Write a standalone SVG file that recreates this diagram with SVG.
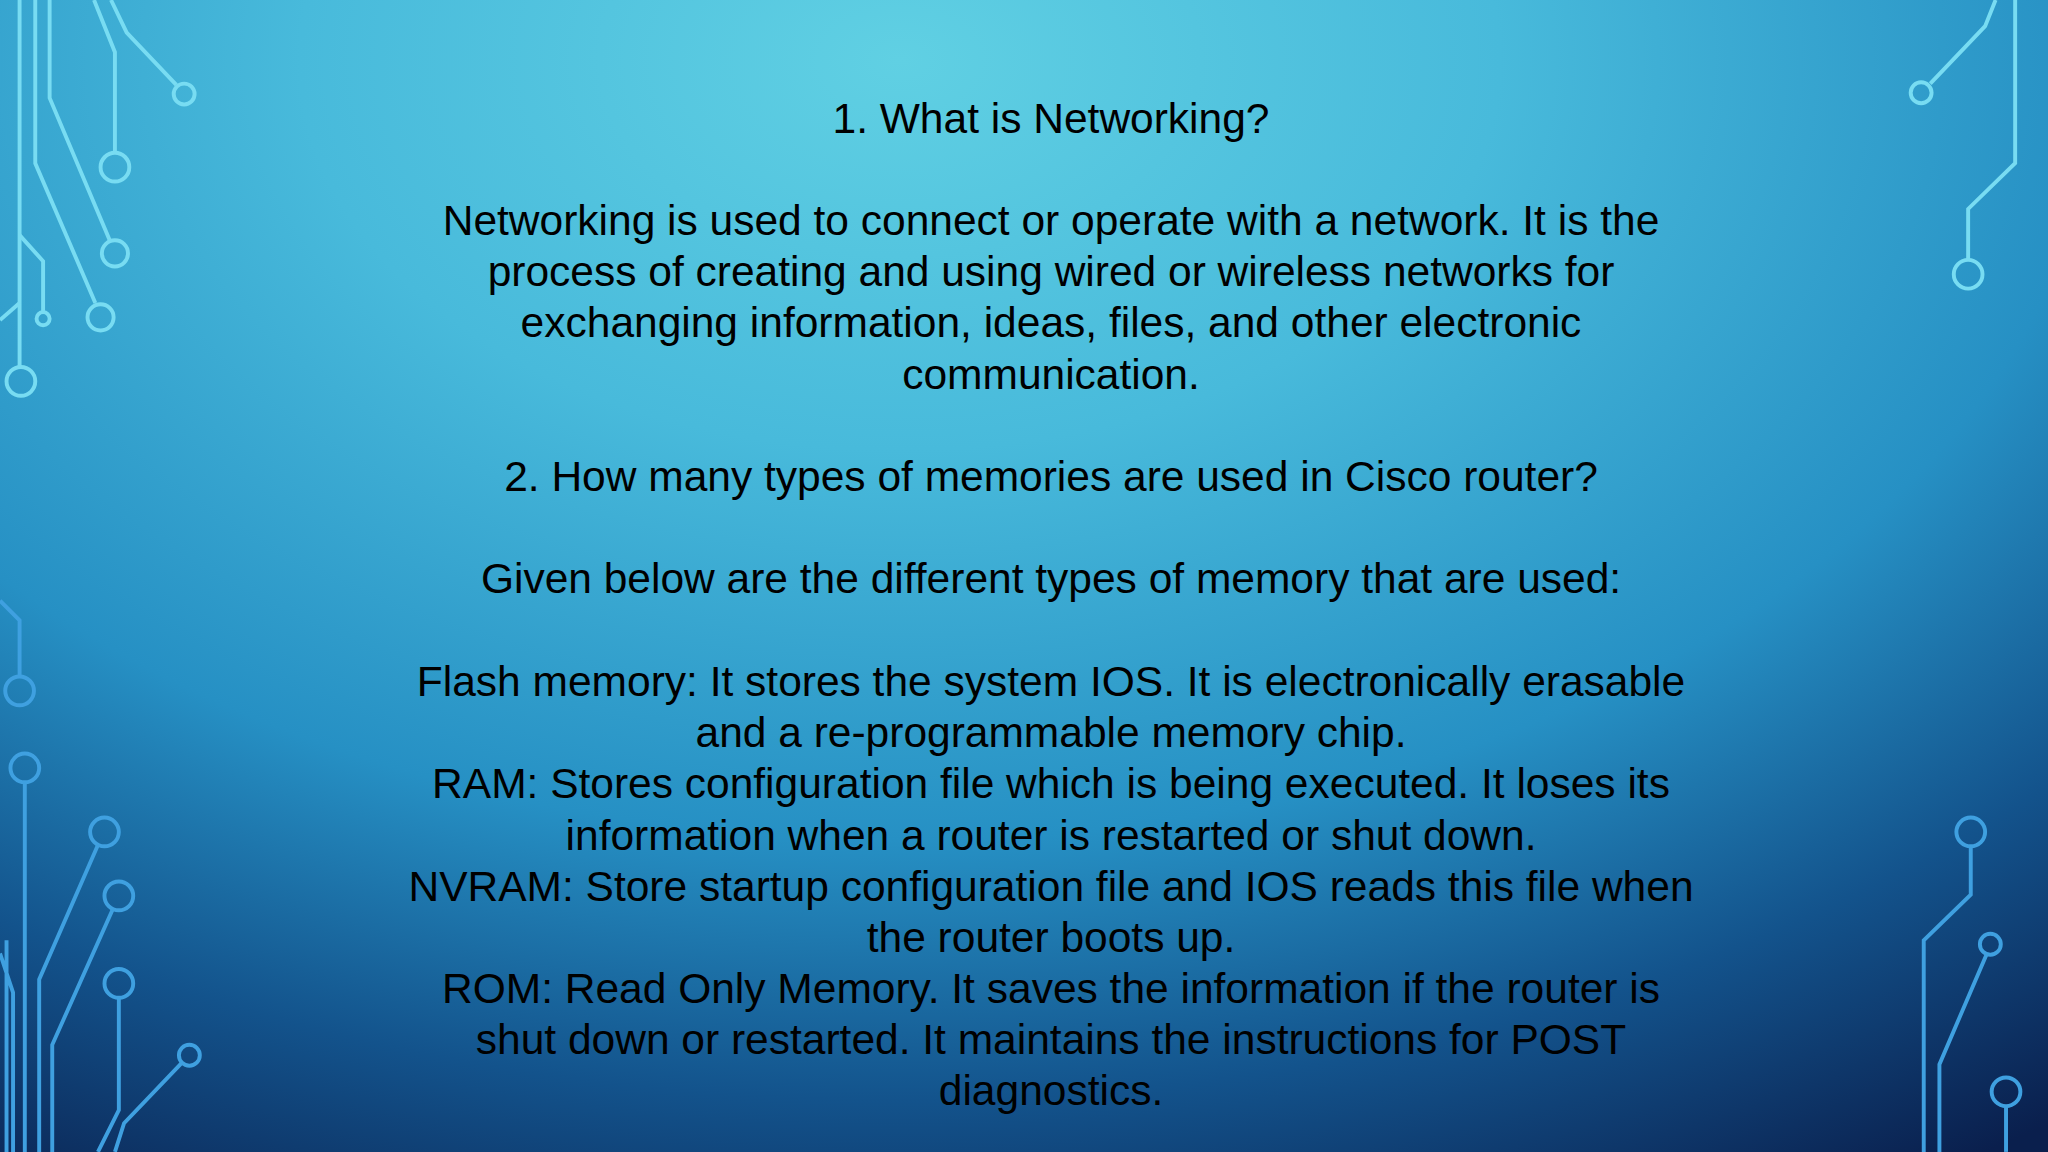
<svg xmlns="http://www.w3.org/2000/svg" width="2048" height="1152" viewBox="0 0 2048 1152">
<defs>
<radialGradient id="bg" cx="0" cy="0" r="1" gradientUnits="userSpaceOnUse" gradientTransform="translate(900 60) scale(2000 1300)">
<stop offset="0" stop-color="#60d0e3"/>
<stop offset="0.3" stop-color="#48badb"/>
<stop offset="0.6" stop-color="#2690c4"/>
<stop offset="0.8" stop-color="#13538c"/>
<stop offset="1" stop-color="#0a1f4d"/>
</radialGradient>
<style>
.c{fill:none;stroke-width:3;}
.t{stroke:#78dcf2;}
.b{stroke:#3fa0e0;}
text{font-family:"Liberation Sans",Arial,sans-serif;font-size:42.5px;fill:#000;text-anchor:middle;}
</style>
</defs>
<rect width="2048" height="1152" fill="url(#bg)"/>
<g transform="scale(1.306)">
<g class="c t">
<path d="M15 0V281"/><circle cx="16" cy="292" r="11"/>
<path d="M27 0V125L73 232"/><circle cx="77" cy="243" r="10"/>
<path d="M38 0V75L84 184"/><circle cx="88" cy="194" r="10"/>
<path d="M72 0L88 40V117"/><circle cx="88" cy="128" r="11"/>
<path d="M85 0L97 25L135 65"/><circle cx="141" cy="72" r="8"/>
<path d="M15 180L33 200V239"/><circle cx="33" cy="244" r="5"/>
<path d="M0 245L15 232"/>
<path d="M1528 0L1520 20L1478 64"/><circle cx="1471" cy="71" r="8"/>
<path d="M1543 0V125L1507 160V199"/><circle cx="1507" cy="210" r="11"/>
</g>
<g class="c b">
<path d="M0 460L15 475V518"/><circle cx="15" cy="529" r="11"/>
<circle cx="19" cy="588" r="11"/><path d="M19 599V882"/>
<path d="M5 720V882M0 730L10 760V882"/>
<circle cx="80" cy="637" r="11"/><path d="M75 647L30 750V882"/>
<circle cx="91" cy="686" r="11"/><path d="M86 697L40 800V882"/>
<circle cx="91" cy="753" r="11"/><path d="M91 764V850L75 882"/>
<circle cx="145" cy="808" r="8"/><path d="M139 814L95 860L88 882"/>
<circle cx="1509" cy="637" r="11"/><path d="M1509 648V685L1473 720V882"/>
<circle cx="1524" cy="723" r="8"/><path d="M1521 731L1485 815V882"/>
<circle cx="1536" cy="836" r="11"/><path d="M1536 847V882"/>
</g>
</g>
<g id="text">
<text x="1051" y="133">1. What is Networking?</text>
<text x="1051" y="235">Networking is used to connect or operate with a network. It is the</text>
<text x="1051" y="286">process of creating and using wired or wireless networks for</text>
<text x="1051" y="337">exchanging information, ideas, files, and other electronic</text>
<text x="1051" y="389">communication.</text>
<text x="1051" y="491">2. How many types of memories are used in Cisco router?</text>
<text x="1051" y="593">Given below are the different types of memory that are used:</text>
<text x="1051" y="696">Flash memory: It stores the system IOS. It is electronically erasable</text>
<text x="1051" y="747">and a re-programmable memory chip.</text>
<text x="1051" y="798">RAM: Stores configuration file which is being executed. It loses its</text>
<text x="1051" y="850">information when a router is restarted or shut down.</text>
<text x="1051" y="901">NVRAM: Store startup configuration file and IOS reads this file when</text>
<text x="1051" y="952">the router boots up.</text>
<text x="1051" y="1003">ROM: Read Only Memory. It saves the information if the router is</text>
<text x="1051" y="1054">shut down or restarted. It maintains the instructions for POST</text>
<text x="1051" y="1105">diagnostics.</text>
</g>
</svg>
